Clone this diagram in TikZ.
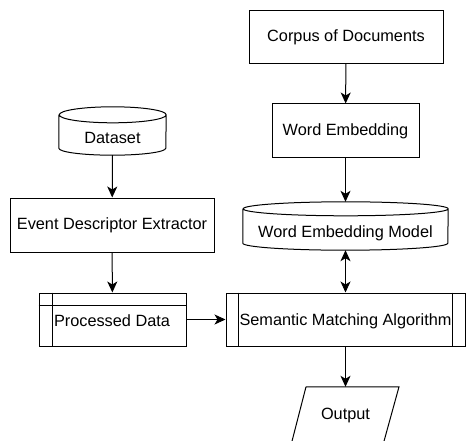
\documentclass[tikz,border=0pt]{standalone}
\usepackage{fontspec}
\setmainfont{Liberation Sans}
\usetikzlibrary{arrows.meta}
\begin{document}
\begin{tikzpicture}[x=1pt,y=-1pt,
  every node/.style={font=\fontsize{16.3}{19}\selectfont, inner sep=0pt},
  box/.style={draw, line width=1pt, minimum width=#1, minimum height=53pt},
  ghost/.style={draw=none, minimum width=#1, minimum height=48pt},
  line/.style={line width=1pt},
  arr/.style={line, -{Stealth[length=11pt,width=10pt,inset=3pt]}},
  darr/.style={line, {Stealth[length=11pt,width=10pt,inset=3pt]}-{Stealth[length=11pt,width=10pt,inset=3pt]}}]
\useasboundingbox (0,0) rectangle (474,441);
% right column
\node[box=194pt] (corpus) at (346,37) {Corpus of Documents};
\node[box=147pt, minimum height=54pt] (we) at (345.5,131) {Word Embedding};
\node[ghost=205pt] (wem) at (345.5,226) {};
\node (wemtext) at (345.5,233) {Word Embedding Model};
\draw[line] ([yshift=-7pt]wem.north west) -- ([yshift=7pt]wem.south west)
  arc[start angle=180,end angle=360,x radius=102.5pt,y radius=7pt]
  -- ([yshift=-7pt]wem.north east)
  arc[start angle=0,end angle=360,x radius=102.5pt,y radius=7pt];
\node[box=239pt] (sma) at (345.5,319.5) {};
\node (smatext) at (345.5,321) {Semantic Matching Algorithm};
\draw[line] ([xshift=13pt]sma.north west) -- ([xshift=13pt]sma.south west);
\draw[line] ([xshift=-13pt]sma.north east) -- ([xshift=-13pt]sma.south east);
\node[draw=none, minimum width=80pt, minimum height=56pt] (out) at (345.5,415) {Output};
\draw[line] ([xshift=-39.5pt]out.north) -- ([xshift=53.5pt]out.north)
  -- ([xshift=38.5pt,yshift=2pt]out.south)
  ([xshift=-39.5pt]out.north) -- ([xshift=-53.5pt,yshift=2pt]out.south);
% left column
\node[ghost=107pt] (ds) at (112.5,131) {};
\node (dstext) at (112.5,138) {Dataset};
\draw[line] ([yshift=-8pt]ds.north west) -- ([yshift=7pt]ds.south west)
  arc[start angle=180,end angle=360,x radius=53.5pt,y radius=7pt]
  -- ([yshift=-8pt]ds.north east)
  arc[start angle=0,end angle=360,x radius=53.5pt,y radius=8pt];
\node[box=204pt, minimum height=54pt] (ede) at (112,225) {Event Descriptor Extractor};
\node[box=147pt] (pd) at (112.5,319.5) {};
\node (pdtext) at (112,321) {Processed Data};
\draw[line] ([yshift=-13pt]pd.north west) -- ([yshift=-13pt]pd.north east);
\draw[line] ([xshift=14pt]pd.north west) -- ([xshift=14pt]pd.south west);
% connectors
\draw[arr] (corpus) -- (we);
\draw[arr] (we) -- (wem.north);
\draw[darr] (wem.south) -- (sma);
\draw[arr] (sma) -- (out.north);
\draw[arr] (ds.south) -- (ede);
\draw[arr] (ede) -- (pd);
\draw[arr] (pd) -- (sma);
\end{tikzpicture}
\end{document}
